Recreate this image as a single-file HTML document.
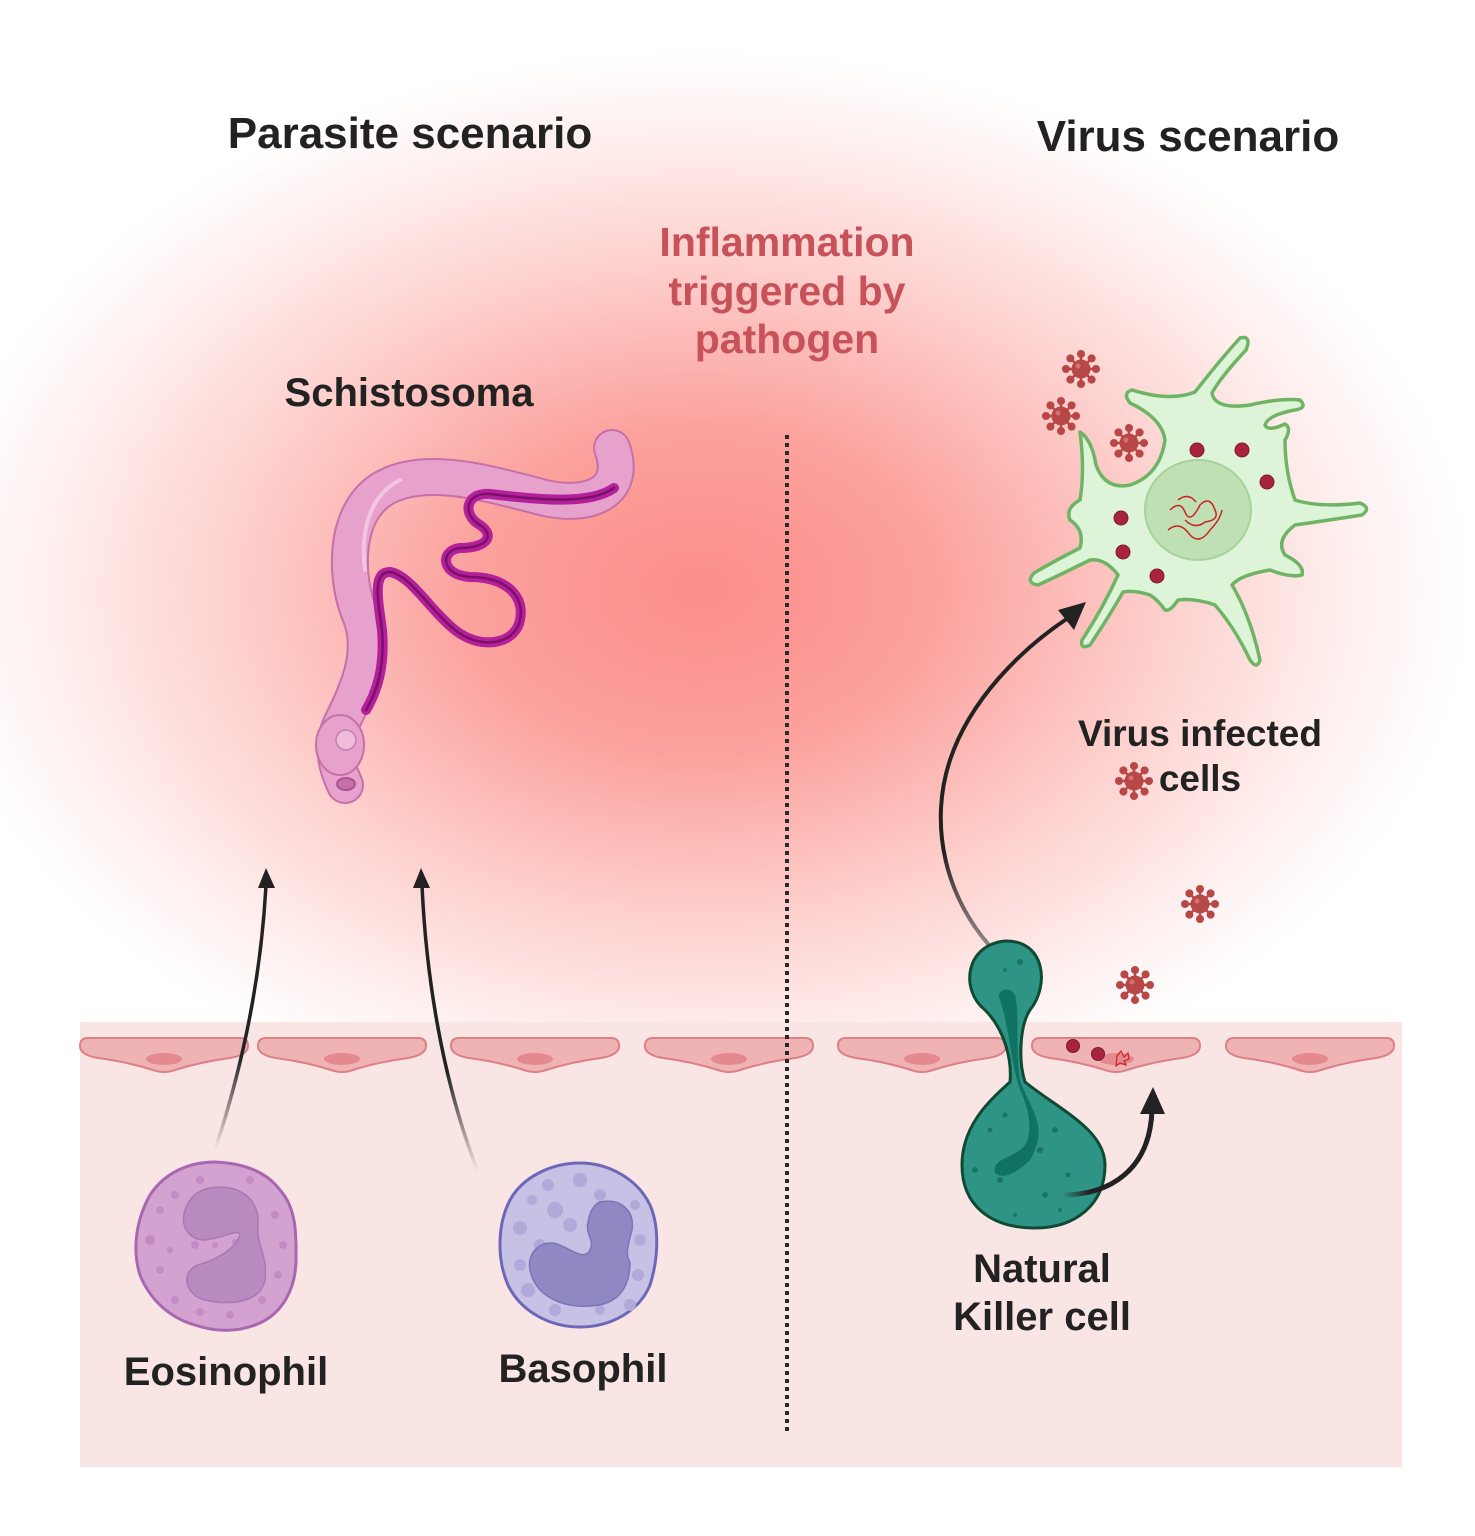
<!DOCTYPE html>
<html><head><meta charset="utf-8"><style>
html,body{margin:0;padding:0;background:#fff}
svg{display:block}
text{font-family:"Liberation Sans",Arial,sans-serif;font-weight:bold}
</style></head><body>
<svg width="1475" height="1536" viewBox="0 0 1475 1536" xmlns="http://www.w3.org/2000/svg">
<defs>
<radialGradient id="bg" cx="0" cy="0" r="1" gradientUnits="userSpaceOnUse" gradientTransform="translate(700,590) scale(770,540)">
<stop offset="0" stop-color="#fb8e89"/>
<stop offset="0.3" stop-color="#fca19d"/>
<stop offset="0.6" stop-color="#fdcfcc"/>
<stop offset="0.85" stop-color="#fef0ef"/>
<stop offset="1" stop-color="#ffffff"/>
</radialGradient>
<linearGradient id="fadeA" x1="0" y1="1" x2="0" y2="0"><stop offset="0" stop-color="#222" stop-opacity="0"/><stop offset="0.35" stop-color="#222"/><stop offset="1" stop-color="#222"/></linearGradient>
<linearGradient id="fadeNK" x1="0" y1="1" x2="0.3" y2="0"><stop offset="0" stop-color="#222" stop-opacity="0"/><stop offset="0.3" stop-color="#222"/><stop offset="1" stop-color="#222"/></linearGradient>
<linearGradient id="fadeS" x1="0" y1="0" x2="1" y2="0"><stop offset="0" stop-color="#222" stop-opacity="0"/><stop offset="0.3" stop-color="#222"/><stop offset="1" stop-color="#222"/></linearGradient>
<g id="virus">
<g stroke="#b84848" stroke-width="2.5" fill="#b84848">
<line x1="0" y1="-14" x2="0" y2="14"/><line x1="-14" y1="0" x2="14" y2="0"/>
<line x1="-10" y1="-10" x2="10" y2="10"/><line x1="-10" y1="10" x2="10" y2="-10"/>
<circle cx="0" cy="-15" r="2.8"/><circle cx="0" cy="15" r="2.8"/><circle cx="-15" cy="0" r="2.8"/><circle cx="15" cy="0" r="2.8"/>
<circle cx="-10.6" cy="-10.6" r="2.8"/><circle cx="10.6" cy="10.6" r="2.8"/><circle cx="-10.6" cy="10.6" r="2.8"/><circle cx="10.6" cy="-10.6" r="2.8"/>
</g>
<circle r="9.5" fill="#b84848"/><circle cx="-3" cy="-3" r="2.5" fill="#d27272"/>
</g>
<g id="epi">
<path d="M8,1038 H160 Q168,1038 168,1046 Q168,1055 150,1058 Q120,1062 95,1070 Q84,1074 73,1070 Q48,1062 18,1058 Q0,1055 0,1046 Q0,1038 8,1038 Z" fill="#efb3b4" stroke="#dd7f86" stroke-width="2"/>
<ellipse cx="84" cy="1059" rx="18" ry="6" fill="#e48a8e"/>
</g>
</defs>
<rect width="1475" height="1536" fill="#fff"/>
<rect width="1475" height="1536" fill="url(#bg)"/>
<rect x="80" y="1022" width="1322" height="445" fill="#fae5e5"/>

<use href="#epi" x="80"/><use href="#epi" x="258"/><use href="#epi" x="451"/><use href="#epi" x="645"/>
<use href="#epi" x="838"/><use href="#epi" x="1032"/><use href="#epi" x="1226"/>

<line x1="787" y1="435" x2="787" y2="1435" stroke="#2a2a2a" stroke-width="4" stroke-dasharray="4,4"/>

<!-- titles -->
<text x="410" y="148" font-size="44" text-anchor="middle" fill="#222">Parasite scenario</text>
<text x="1188" y="151" font-size="44" text-anchor="middle" fill="#222">Virus scenario</text>
<g font-size="41" text-anchor="middle" fill="#c8525a">
<text x="787" y="256">Inflammation</text>
<text x="787" y="305">triggered by</text>
<text x="787" y="353">pathogen</text>
</g>
<text x="409" y="406" font-size="40" text-anchor="middle" fill="#222">Schistosoma</text>

<!-- schistosoma -->
<path d="M612,448 C628,492 590,508 545,498 C490,484 420,462 378,492 C342,520 346,582 360,615 C375,652 358,690 342,722 C332,742 334,762 345,785" fill="none" stroke="#c76fa9" stroke-width="38" stroke-linecap="round"/>
<path d="M612,448 C628,492 590,508 545,498 C490,484 420,462 378,492 C342,520 346,582 360,615 C375,652 358,690 342,722 C332,742 334,762 345,785" fill="none" stroke="#e6a2cc" stroke-width="34" stroke-linecap="round"/>
<path d="M400,480 C370,495 360,530 365,570" fill="none" stroke="#f2c6e0" stroke-width="4" stroke-linecap="round"/>
<ellipse cx="340" cy="745" rx="24" ry="30" fill="#e6a2cc" stroke="#c76fa9" stroke-width="2"/>
<circle cx="346" cy="740" r="10" fill="#eebbda" stroke="#c77fb0" stroke-width="1.5"/>
<ellipse cx="346" cy="784" rx="9" ry="6" fill="#c76fa9" stroke="#a85590" stroke-width="2"/>
<path d="M614,488 C590,505 540,500 490,494 C465,492 462,515 480,525 C495,535 488,548 460,548 C440,550 440,575 470,577 C505,577 525,595 520,620 C515,645 480,650 455,630 C430,610 410,575 390,572 C372,572 378,600 382,630 C385,665 378,690 366,710" fill="none" stroke="#b3209a" stroke-width="10" stroke-linecap="round"/>
<path d="M614,488 C590,505 540,500 490,494 C465,492 462,515 480,525 C495,535 488,548 460,548 C440,550 440,575 470,577 C505,577 525,595 520,620 C515,645 480,650 455,630 C430,610 410,575 390,572 C372,572 378,600 382,630 C385,665 378,690 366,710" fill="none" stroke="#7a106a" stroke-width="2.5" stroke-linecap="round"/>

<!-- parasite arrows -->
<path d="M215,1150 C248,1050 262,960 266,885" fill="none" stroke="url(#fadeA)" stroke-width="3.5"/>
<polygon points="266,868 258,888 275,888" fill="#222"/>
<path d="M478,1172 C442,1080 426,975 422,885" fill="none" stroke="url(#fadeA)" stroke-width="3.5"/>
<polygon points="421,868 413,888 430,888" fill="#222"/>

<!-- eosinophil -->
<path d="M215,1162 C240,1163 265,1170 280,1190 C298,1210 296,1240 296,1262 C295,1290 282,1312 262,1322 C240,1333 215,1332 195,1325 C170,1318 150,1300 140,1275 C132,1250 136,1220 150,1195 C165,1172 190,1162 215,1162 Z" fill="#d3a2d1" stroke="#a767b1" stroke-width="3"/>
<g fill="#c48cc4">
<circle cx="160" cy="1210" r="4"/><circle cx="175" cy="1195" r="4"/><circle cx="150" cy="1240" r="5"/><circle cx="160" cy="1270" r="4"/><circle cx="175" cy="1300" r="4"/><circle cx="200" cy="1312" r="4"/><circle cx="230" cy="1315" r="4"/><circle cx="262" cy="1300" r="4"/><circle cx="278" cy="1275" r="4"/><circle cx="283" cy="1245" r="4"/><circle cx="275" cy="1215" r="4"/><circle cx="250" cy="1180" r="4"/><circle cx="200" cy="1180" r="4"/><circle cx="170" cy="1250" r="3"/><circle cx="195" cy="1245" r="4"/><circle cx="215" cy="1245" r="3"/><circle cx="235" cy="1242" r="3"/>
</g>
<path d="M210,1188 C240,1183 260,1200 258,1225 C256,1245 268,1255 265,1280 C260,1305 225,1305 205,1300 C185,1295 180,1272 198,1265 C215,1260 235,1250 240,1235 C238,1228 225,1238 205,1240 C188,1240 180,1225 185,1210 C190,1195 200,1190 210,1188 Z" fill="#b98abf" stroke="#a978b2" stroke-width="1.5"/>
<text x="226" y="1385" font-size="40" text-anchor="middle" fill="#222">Eosinophil</text>

<!-- basophil -->
<path d="M580,1163 C610,1163 638,1180 650,1205 C660,1228 658,1260 650,1285 C640,1310 612,1327 580,1327 C548,1327 520,1310 508,1285 C497,1260 497,1225 510,1200 C522,1178 550,1163 580,1163 Z" fill="#c8c1e6" stroke="#6d67b8" stroke-width="3"/>
<g fill="#b2a9d8">
<circle cx="548" cy="1185" r="6"/><circle cx="580" cy="1180" r="7"/><circle cx="532" cy="1200" r="5"/><circle cx="555" cy="1210" r="8"/><circle cx="520" cy="1228" r="7"/><circle cx="540" cy="1245" r="6"/><circle cx="570" cy="1225" r="7"/><circle cx="600" cy="1195" r="6"/><circle cx="520" cy="1265" r="6"/><circle cx="528" cy="1290" r="7"/><circle cx="555" cy="1310" r="6"/><circle cx="600" cy="1310" r="5"/><circle cx="630" cy="1305" r="6"/><circle cx="638" cy="1275" r="6"/><circle cx="640" cy="1240" r="6"/><circle cx="635" cy="1205" r="5"/>
</g>
<path d="M600,1202 C620,1198 635,1210 632,1230 C628,1245 625,1255 630,1262 C630,1285 620,1305 590,1306 C560,1308 535,1295 530,1270 C526,1250 545,1238 560,1245 C575,1252 585,1260 590,1250 C595,1240 585,1235 588,1222 C590,1210 595,1204 600,1202 Z" fill="#8f88c2" stroke="#7c74b8" stroke-width="1.5"/>
<text x="583" y="1382" font-size="40" text-anchor="middle" fill="#222">Basophil</text>

<!-- dendritic / infected cell -->
<path d="M1080,432 Q1092,440 1096,465 Q1105,490 1130,485 Q1160,475 1165,440 Q1162,418 1130,403 Q1122,393 1132,390 Q1170,402 1195,392 Q1220,360 1240,338 Q1252,335 1246,350 Q1220,378 1212,393 Q1215,410 1250,405 Q1280,398 1300,400 Q1308,408 1295,410 Q1268,415 1265,425 Q1268,432 1285,424 Q1292,428 1285,440 Q1285,472 1295,500 Q1320,508 1360,503 Q1372,508 1362,515 Q1330,520 1295,525 Q1275,540 1285,555 Q1305,565 1302,575 Q1290,578 1270,570 Q1240,575 1232,585 Q1250,615 1260,660 Q1257,670 1250,660 Q1235,628 1215,605 Q1195,598 1178,600 Q1170,612 1165,610 Q1158,600 1150,595 Q1135,590 1123,592 Q1110,615 1090,645 Q1080,650 1082,640 Q1102,610 1118,575 Q1105,558 1090,560 Q1060,575 1038,585 Q1025,583 1034,573 Q1060,558 1080,548 Q1085,530 1070,520 Q1065,508 1080,500 Q1085,470 1080,432 Z" fill="#def4d8" stroke="#6fb466" stroke-width="3.5" stroke-linejoin="round"/>
<ellipse cx="1198" cy="510" rx="53" ry="50" fill="#bfe0b4" stroke="#a5d39a" stroke-width="2"/>
<path d="M1170,510 Q1180,500 1185,512 Q1190,525 1200,505 Q1210,495 1215,510 Q1220,520 1205,522 Q1195,530 1185,520 M1168,530 Q1180,520 1190,535 Q1200,545 1210,530 Q1220,520 1222,510 M1178,500 Q1188,492 1196,502" fill="none" stroke="#d02020" stroke-width="1.5"/>
<g fill="#a8233f" stroke="#7e1a30" stroke-width="1">
<circle cx="1197" cy="450" r="7"/><circle cx="1242" cy="450" r="7"/><circle cx="1267" cy="482" r="7"/><circle cx="1121" cy="518" r="7"/><circle cx="1123" cy="552" r="7"/><circle cx="1157" cy="576" r="7"/>
</g>
<use href="#virus" x="1081" y="369"/><use href="#virus" x="1061" y="416"/><use href="#virus" x="1129" y="443"/>
<use href="#virus" x="1134" y="781"/><use href="#virus" x="1200" y="904"/><use href="#virus" x="1135" y="985"/>
<text x="1200" y="746" font-size="37" text-anchor="middle" fill="#222">Virus infected</text>
<text x="1200" y="791" font-size="37" text-anchor="middle" fill="#222">cells</text>

<!-- NK arrow big -->
<path d="M1005,962 C940,900 930,820 950,760 C970,700 1020,650 1068,618" fill="none" stroke="url(#fadeNK)" stroke-width="4"/>
<polygon points="1086,602 1058,610 1074,630" fill="#222"/>

<!-- infected epithelial cell extras -->
<circle cx="1073" cy="1046" r="6.5" fill="#a8233f" stroke="#7e1a30"/>
<circle cx="1098" cy="1054" r="6.5" fill="#a8233f" stroke="#7e1a30"/>
<path d="M1117,1056 l4,-5 l3,6 l4,-4 l1,6 l-5,2 l2,4 l-6,-2 l-4,3 z" fill="none" stroke="#d02020" stroke-width="1.2"/>

<!-- NK cell -->
<path d="M985,1010 C960,990 965,945 1005,941 C1045,940 1050,985 1030,1010 C1020,1025 1018,1060 1025,1082 C1060,1110 1105,1130 1105,1165 C1105,1205 1075,1228 1035,1228 C990,1228 962,1205 962,1165 C962,1125 990,1100 1010,1082 C1012,1060 1005,1030 985,1010 Z" fill="#2e9485" stroke="#0f4a33" stroke-width="3"/>
<path d="M1000,1000 C995,990 1010,985 1015,995 C1020,1015 1015,1050 1020,1080 C1030,1110 1050,1125 1030,1160 C1015,1175 1000,1180 995,1172 C992,1160 1010,1158 1020,1150 C1035,1140 1030,1110 1020,1090 C1010,1060 1010,1030 1000,1000 Z" fill="#0f7262"/>
<g fill="#1a7565">
<circle cx="1020" cy="962" r="3"/><circle cx="1005" cy="970" r="2"/><circle cx="1005" cy="1115" r="2.5"/><circle cx="990" cy="1130" r="2.5"/><circle cx="975" cy="1170" r="3"/><circle cx="1000" cy="1180" r="3"/><circle cx="1040" cy="1150" r="3"/><circle cx="1055" cy="1130" r="3"/><circle cx="1045" cy="1195" r="3"/><circle cx="1068" cy="1175" r="2.5"/><circle cx="1060" cy="1210" r="2"/><circle cx="1015" cy="1215" r="2"/>
</g>
<path d="M1062,1195 C1110,1195 1150,1170 1152,1110" fill="none" stroke="url(#fadeS)" stroke-width="5"/>
<polygon points="1153,1087 1140,1114 1165,1114" fill="#222"/>
<text x="1042" y="1282" font-size="40" text-anchor="middle" fill="#222">Natural</text>
<text x="1042" y="1330" font-size="40" text-anchor="middle" fill="#222">Killer cell</text>
</svg>
</body></html>
